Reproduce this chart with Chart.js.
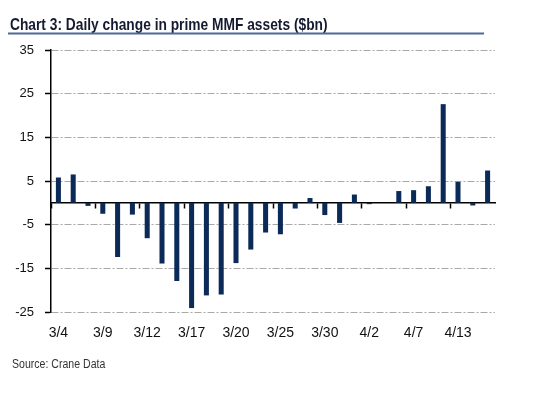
<!DOCTYPE html>
<html>
<head>
<meta charset="utf-8">
<script src="https://cdn.jsdelivr.net/npm/chart.js@4.4.1/dist/chart.umd.min.js"></script>
<style>
  html, body { margin: 0; padding: 0; background: #fff; }
  #wrap { position: relative; width: 550px; height: 395px; }
</style>
</head>
<body>
<div id="wrap"><canvas id="grafico"></canvas></div>
<script>
// dias habiles (categorias)
const fechas = ['3/4','3/5','3/6','3/9','3/10','3/11','3/12','3/13','3/16','3/17',
                '3/18','3/19','3/20','3/23','3/24','3/25','3/26','3/27','3/30','3/31',
                '4/1','4/2','4/3','4/6','4/7','4/8','4/9','4/13','4/14','4/15'];
// cambio diario en activos de prime MMF ($bn)
const cambios = [5.8, 6.5, -0.7, -2.5, -12.4, -2.7, -8.1, -13.9, -17.9, -24.1,
                 -21.2, -21.0, -13.8, -10.7, -6.8, -7.2, -1.3, 1.1, -2.8, -4.6,
                 1.9, -0.3, 0, 2.7, 2.9, 3.8, 22.6, 4.8, -0.6, 7.4];
// etiquetas visibles del eje x
const etiquetasX = ['3/4','3/9','3/12','3/17','3/20','3/25','3/30','4/2','4/7','4/13'];
// eje y
const yMin = -25, yMax = 35, yPaso = 10;

const titulo = 'Chart 3: Daily change in prime MMF assets ($bn)';
const fuente = 'Source: Crane Data';

// texto angosto: se comprime en x porque no hay fuente narrow instalada
function textoAngosto(ctx, texto, x, y, escalaX) {
    ctx.save();
    ctx.translate(x, y);
    ctx.scale(escalaX, 1);
    ctx.fillText(texto, 0, 0);
    ctx.restore();
}

// titulo, linea azul y fuente dibujados sobre el canvas
const textos = {
    id: 'textos',
    afterDraw(chart) {
        const ctx = chart.ctx;
        ctx.save();
        ctx.textBaseline = 'alphabetic';
        ctx.fillStyle = '#161a30';
        ctx.font = 'bold 17px "Liberation Sans", Arial, sans-serif';
        textoAngosto(ctx, titulo, 10, 30, 0.81);
        ctx.strokeStyle = '#4e6b98';
        ctx.lineWidth = 2;
        ctx.beginPath();
        ctx.moveTo(8, 33.5);
        ctx.lineTo(484, 33.5);
        ctx.stroke();
        ctx.fillStyle = '#333';
        ctx.font = '12px "Liberation Sans", Arial, sans-serif';
        textoAngosto(ctx, fuente, 12, 368, 0.88);
        ctx.restore();
    }
};

const fuenteEjes = '"Liberation Sans", Arial, sans-serif';

new Chart(document.getElementById('grafico'), {
    type: 'bar',
    data: {
        labels: fechas,
        datasets: [{
            data: cambios,
            backgroundColor: '#0b2a58',
            borderWidth: 0,
            barPercentage: 0.34,
            categoryPercentage: 1
        }]
    },
    options: {
        responsive: true,
        maintainAspectRatio: false,
        animation: false,
        layout: { padding: { top: 50, right: 55, left: 0, bottom: 0 } },
        plugins: { legend: { display: false }, tooltip: { enabled: false } },
        scales: {
            x: {
                type: 'category',
                position: 'bottom',
                offset: true,
                grid: { display: false, drawTicks: false },
                border: { display: false },
                ticks: {
                    autoSkip: false,
                    maxRotation: 0,
                    padding: 13,
                    color: '#111',
                    font: { family: fuenteEjes, size: 14 },
                    callback: function(valor, indice) {
                        const f = fechas[indice];
                        return etiquetasX.includes(f) ? f : '';
                    }
                },
                afterFit: function(escala) { escala.height = 83; }
            },
            // eje en cero con marcas cada 3 dias
            x0: {
                type: 'category',
                position: { y: 0 },
                offset: true,
                grid: {
                    offset: true,
                    drawOnChartArea: false,
                    tickLength: 5,
                    tickWidth: 1.5,
                    tickColor: function(c) { return c.index % 3 === 0 ? '#000' : 'rgba(0,0,0,0)'; }
                },
                border: { display: true, color: '#000', width: 1.5 },
                ticks: { display: false, autoSkip: false },
                afterFit: function(escala) { escala.height = 0; }
            },
            y: {
                min: yMin,
                max: yMax,
                ticks: {
                    stepSize: yPaso,
                    padding: 11,
                    color: '#111',
                    font: { family: fuenteEjes, size: 13 }
                },
                grid: {
                    color: '#a9a9a9',
                    lineWidth: 1,
                    tickLength: 6,
                    tickColor: '#000',
                    tickWidth: 1.5
                },
                border: { display: true, color: '#000', width: 1.5, dash: [7, 2, 2, 2] },
                afterFit: function(escala) { escala.width = 51; }
            }
        }
    },
    plugins: [textos]
});
</script>
</body>
</html>
